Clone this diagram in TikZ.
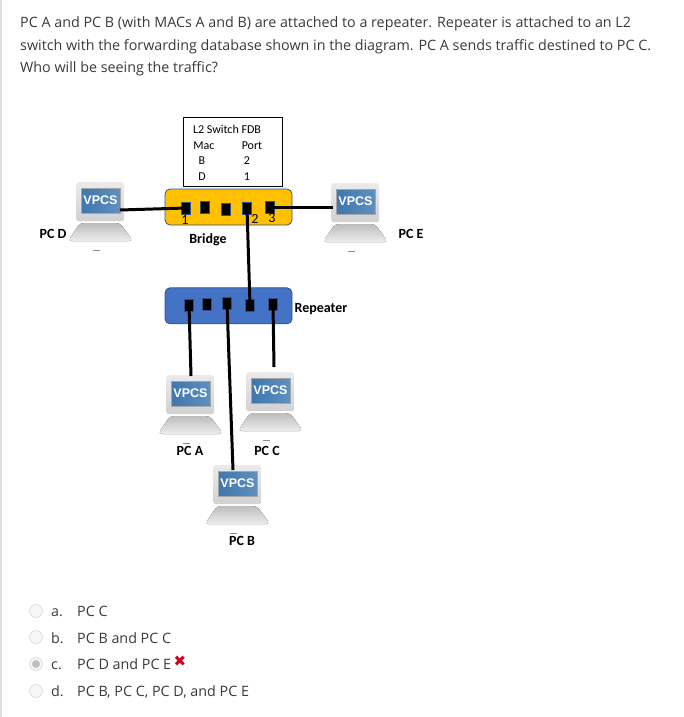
\documentclass[tikz,border=0pt]{standalone}
\usepackage{fontspec}
\setmainfont{Open Sans}
\newfontfamily\lblfont{Carlito}
\newfontfamily\vpcsfont{Liberation Sans}
\newfontfamily\symfont{DejaVu Sans}
\usetikzlibrary{positioning}
\definecolor{bodytext}{HTML}{373A3C}
\definecolor{bridgefill}{HTML}{FFC000}
\definecolor{repfill}{HTML}{4472C4}
\definecolor{boxedge}{HTML}{2F528F}
\definecolor{crossred}{HTML}{D0021B}
\definecolor{scrleft}{HTML}{3F76AE}
\definecolor{scrright}{HTML}{5F90BE}
\tikzset{
	qtext/.style={anchor=base west, inner sep=0pt, text=bodytext, font=\fontsize{14.3}{16}\selectfont},
	lbl/.style={inner sep=0pt, font=\lblfont\bfseries\fontsize{14}{16}\selectfont},
	fdb/.style={inner sep=0pt, font=\lblfont\fontsize{12}{14}\selectfont},
	plabel/.style={inner sep=0pt, font=\lblfont\fontsize{14}{16}\selectfont},
	devbox/.style={draw=boxedge, line width=0.8pt, rounded corners=5pt, minimum width=127pt, minimum height=36pt, inner sep=0pt},
	port/.style={fill=black, draw=boxedge, line width=0.4pt, minimum width=9pt, minimum height=12pt, inner sep=0pt},
	wire/.style={line width=3pt, black},
	radio/.style={circle, draw=black!12, fill=black!3, line width=0.9pt, minimum size=13pt, inner sep=0pt},
	vpcs/.pic={
		\fill [rounded corners=4pt, top color=black!26, bottom color=black!7] (4,41) -- (44,41) -- (57,59) -- (-8,59) -- cycle;
		\node (-mon) [anchor=north west, rounded corners=2.5pt, minimum width=48pt, minimum height=39pt, inner sep=0pt, top color=black!8, bottom color=black!18] at (0,0) {};
		\node (-scr) [minimum width=39pt, minimum height=25pt, inner sep=0pt, draw=black!35, line width=0.5pt, left color=scrleft, right color=scrright, text=white, font=\vpcsfont\bfseries\fontsize{12.5}{14}\selectfont] at (24.5,18.5) {VPCS};
		\draw [black!45, line width=0.6pt] (17,68) -- (24,68);
	},
}
\begin{document}
\begin{tikzpicture}[x=1pt, y=-1pt]
	\useasboundingbox (0,0) rectangle (684,717);
	\fill [black!13] (0,0) rectangle (1.5,717);
	\node [qtext] (line1) at (20,28) {PC A and PC B (with MACs A and B) are attached to a repeater. Repeater is attached to an L2};
	\node [qtext] (line2) at (20,51) {switch with the forwarding database shown in the diagram. PC A sends traffic destined to PC C.};
	\node [qtext] (line3) at (20,73) {Who will be seeing the traffic?};

	\node [draw, line width=0.8pt, minimum width=99pt, minimum height=69pt, inner sep=0pt] (fdbbox) at (232.5,151.5) {};
	\node [fdb] (fdbtitle) at (227,129.5) {L2 Switch FDB};
	\node [fdb] (macB) at (202,160.5) {B};
	\node [fdb] (macD) at (202,176.5) {D};
	\node [fdb] (mac) at (204,145.5) {Mac};
	\node [fdb] (pB) at (247,160.5) {2};
	\node [fdb] (pD) at (247,176.5) {1};
	\node [fdb] (portT) at (252,145.5) {Port};

	\node [devbox, fill=bridgefill] (bridge) at (228.5,207) {};
	\node [devbox, fill=repfill, below=62pt of bridge] (rep) {};
	\node [port] (b1) at (186,208) {};
	\node [port, right=9pt of b1, yshift=1pt] (b2) {};
	\node [port] (b3) at (226,209) {};
	\node [port] (b4) at (247,208) {};
	\node [port] (b5) at (270,207) {};
	\node [port] (r1) at (189,305) {};
	\node [port] (r2) at (207,304) {};
	\node [port] (r3) at (227,303) {};
	\node [port] (r4) at (250,305) {};
	\node [port] (r5) at (273,304) {};
	\node [plabel] (n1) at (185,220) {1};
	\node [plabel] (n2) at (255,219) {2};
	\node [plabel] (n3) at (272,218) {3};
	\node [lbl] (bridgelbl) at (208,239.5) {Bridge};
	\node [lbl] (replbl) at (321,309.5) {Repeater};

	\pic (pcd) at (76,182) {vpcs};
	\pic (pce) at (331,183) {vpcs};
	\pic (pca) at (166,375) {vpcs};
	\pic (pcc) at (246,372) {vpcs};
	\pic (pcb) at (213,465) {vpcs};
	\node [lbl] (lbld) at (53,233.5) {PC D};
	\node [lbl] (lble) at (411,233.5) {PC E};
	\node [lbl] (lbla) at (190,450.5) {PC A};
	\node [lbl] (lblc) at (267,450.5) {PC C};
	\node [lbl] (lblb) at (242,540.5) {PC B};

	\coordinate (endd) at (120,210);
	\coordinate (ende) at (333,207);
	\coordinate (endc) at (274,367);
	\coordinate (endb) at (233,470);
	\coordinate (enda) at (191,376);
	\draw [wire] (endd) to (b1.center);
	\draw [wire] (b5.center) to (ende);
	\draw [wire] (b4.center) to (r4.center);
	\draw [wire] (r1.center) to (enda);
	\draw [wire] (r3.center) to (endb);
	\draw [wire] (r5.center) to (endc);

	\node [radio] (ra) at (36,611) {};
	\node [radio] (rb) at (36,637) {};
	\node [radio] (rc) at (36,664) {};
	\node [radio] (rd) at (36,691) {};
	\fill [black!25] (rc) circle (4pt);
	\node [qtext] (la) at (51,616) {a.};
	\node [qtext] (lb) at (51,643) {b.};
	\node [qtext] (lc) at (51,669) {c.};
	\node [qtext] (ld) at (51,696) {d.};
	\node [qtext] (ta) at (77,616) {PC C};
	\node [qtext] (tb) at (77,643) {PC B and PC C};
	\node [qtext] (tc) at (77,669) {PC D and PC E};
	\node [qtext] (td) at (77,696) {PC B, PC C, PC D, and PC E};
	\node [inner sep=0pt, text=crossred, font=\symfont\fontsize{15}{16}\selectfont] (cross) at (180,661) {✖};
\end{tikzpicture}
\end{document}
